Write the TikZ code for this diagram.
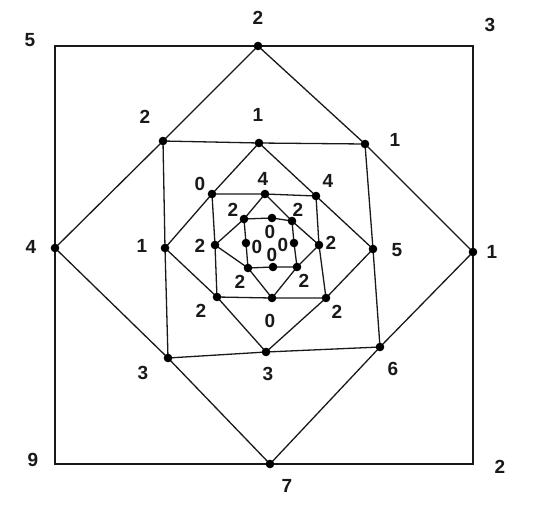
\documentclass[tikz,border=0pt]{standalone}
\usepackage{fontspec}
\setmainfont{Liberation Sans}
\begin{document}
\begin{tikzpicture}[x=1pt,y=-1pt,
  edge/.style={line width=1.3pt,black!90},
  dot/.style={fill=black},
  lab/.style={font=\fontsize{19}{19}\selectfont\bfseries,inner sep=0pt,text=black!90}]
\useasboundingbox[fill=white] (0,0) rectangle (538,512);
% outer square corners
\coordinate (O1) at (55,46);
\coordinate (O2) at (473,46);
\coordinate (O3) at (473,464);
\coordinate (O4) at (55,464);
% diamond 1
\coordinate (D1t) at (258,46);
\coordinate (D1r) at (473,252);
\coordinate (D1b) at (270,464);
\coordinate (D1l) at (55,248);
% square 2
\coordinate (S2a) at (163,141);
\coordinate (S2b) at (365,144);
\coordinate (S2c) at (380,347);
\coordinate (S2d) at (168,358);
% diamond 2
\coordinate (D2t) at (259,143);
\coordinate (D2r) at (373,249);
\coordinate (D2b) at (266,352);
\coordinate (D2l) at (165,248);
% square 3
\coordinate (S3a) at (212,194);
\coordinate (S3b) at (316,196);
\coordinate (S3c) at (326,298);
\coordinate (S3d) at (217,297);
% diamond 3
\coordinate (D3t) at (265,194);
\coordinate (D3r) at (319,245);
\coordinate (D3b) at (272,298);
\coordinate (D3l) at (215,245);
% square 4
\coordinate (S4a) at (244,219);
\coordinate (S4b) at (292,221);
\coordinate (S4c) at (297,267);
\coordinate (S4d) at (248,268);
% diamond 4
\coordinate (D4t) at (272,218);
\coordinate (D4r) at (294,243);
\coordinate (D4b) at (273,267);
\coordinate (D4l) at (246,243);

% edges
\draw[edge] (O1) -- (D1t) -- (O2) -- (D1r) -- (O3) -- (D1b) -- (O4) -- (D1l) -- cycle;
\draw[edge] (D1t) -- (S2b) -- (D1r) -- (S2c) -- (D1b) -- (S2d) -- (D1l) -- (S2a) -- cycle;
\draw[edge] (S2a) -- (D2t) -- (S2b) -- (D2r) -- (S2c) -- (D2b) -- (S2d) -- (D2l) -- cycle;
\draw[edge] (D2t) -- (S3b) -- (D2r) -- (S3c) -- (D2b) -- (S3d) -- (D2l) -- (S3a) -- cycle;
\draw[edge] (S3a) -- (D3t) -- (S3b) -- (D3r) -- (S3c) -- (D3b) -- (S3d) -- (D3l) -- cycle;
\draw[edge] (D3t) -- (S4b) -- (D3r) -- (S4c) -- (D3b) -- (S4d) -- (D3l) -- (S4a) -- cycle;
\draw[edge] (S4a) -- (D4t) -- (S4b) -- (D4r) -- (S4c) -- (D4b) -- (S4d) -- (D4l) -- cycle;

% dots
\foreach \p in {D1t,D1r,D1b,D1l,S2a,S2b,S2c,S2d,D2t,D2r,D2b,D2l,
  S3a,S3b,S3c,S3d,D3t,D3r,D3b,D3l,S4a,S4b,S4c,S4d,D4t,D4r,D4b,D4l}
  \fill[dot] (\p) circle (4.3pt);

% labels
\node[lab] (lO1) at (30,40) {5};
\node[lab] (lO2) at (490,25) {3};
\node[lab] (lO3) at (500,467) {2};
\node[lab] (lO4) at (33,460) {9};
\node[lab] (lD1t) at (258,18) {2};
\node[lab] (lD1r) at (492,252) {1};
\node[lab] (lD1b) at (287,486) {7};
\node[lab] (lD1l) at (31,247) {4};
\node[lab] (lS2a) at (145,117) {2};
\node[lab] (lS2b) at (395,140) {1};
\node[lab] (lS2c) at (393,369) {6};
\node[lab] (lS2d) at (143,373) {3};
\node[lab] (lD2t) at (258,115) {1};
\node[lab] (lD2r) at (397,250) {5};
\node[lab] (lD2b) at (268,374) {3};
\node[lab] (lD2l) at (142,246) {1};
\node[lab] (lS3a) at (200,184) {0};
\node[lab] (lS3b) at (328,181) {4};
\node[lab] (lS3c) at (337,312) {2};
\node[lab] (lS3d) at (201,311) {2};
\node[lab] (lD3t) at (263,179) {4};
\node[lab] (lD3r) at (331,243) {2};
\node[lab] (lD3b) at (270,321) {0};
\node[lab] (lD3l) at (200,246) {2};
\node[lab] (lS4a) at (233,210) {2};
\node[lab] (lS4b) at (298,210) {2};
\node[lab] (lS4c) at (304,281) {2};
\node[lab] (lS4d) at (240,282) {2};
\node[lab] (lD4t) at (270,232) {0};
\node[lab] (lD4l) at (257,247) {0};
\node[lab] (lD4r) at (283,245) {0};
\node[lab] (lD4b) at (272,255) {0};
\end{tikzpicture}
\end{document}
